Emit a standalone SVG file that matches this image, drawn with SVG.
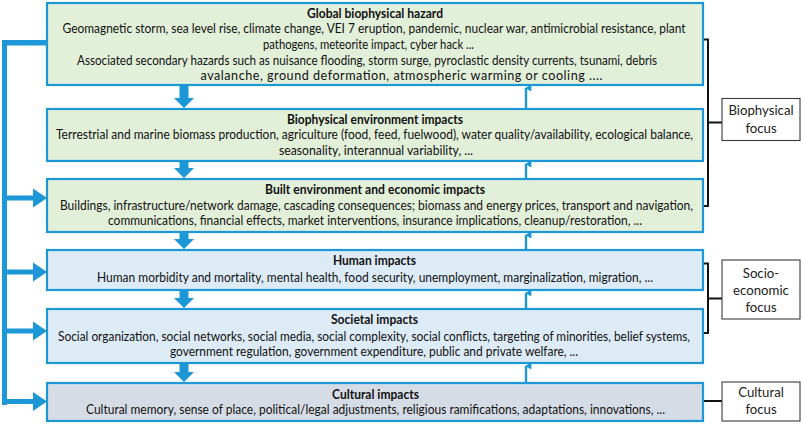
<svg xmlns="http://www.w3.org/2000/svg" width="803" height="425" viewBox="0 0 803 425">
<defs>
<style>
.bg{fill:#ffffff}
.box{stroke:#1d97d5;stroke-width:2.2}
.g{fill:#e2efd9}
.b{fill:#ddebf7}
.c{fill:#d6dce5}
.t{font-family:Lato,"Open Sans","Liberation Sans",sans-serif;font-size:13.4px;fill:#111;text-anchor:middle}
.h{font-weight:bold}
.lab{fill:#ffffff;stroke:#3a3a3a;stroke-width:1.1}
.lt{font-family:Lato,"Open Sans","Liberation Sans",sans-serif;font-size:13.2px;fill:#222;text-anchor:middle}
.blue{fill:#1d97d5}
.up{stroke:#1d97d5;stroke-width:2.4;fill:none}
.br{stroke:#111;stroke-width:2;fill:none}
</style>
<marker id="uph" viewBox="0 0 8 8" refX="4" refY="1" markerWidth="3" markerHeight="3" orient="auto-start-reverse" markerUnits="strokeWidth">
<path d="M0,7 L4,0 L8,7 Z" fill="#1d97d5"/>
</marker>
</defs>
<rect class="bg" x="0" y="0" width="803" height="425"/>

<g id="connectors">
<!-- down arrows -->
<path class="blue" d="M179.5,86 h9 v12 h5.5 l-10,10 l-10,-10 h5.5 Z"/>
<path class="blue" d="M179.5,162 h9 v6 h5.5 l-10,10 l-10,-10 h5.5 Z"/>
<path class="blue" d="M179.5,233 h9 v6 h5.5 l-10,10 l-10,-10 h5.5 Z"/>
<path class="blue" d="M179.5,291 h9 v7 h5.5 l-10,10 l-10,-10 h5.5 Z"/>
<path class="blue" d="M179.5,364 h9 v8 h5.5 l-10,10 l-10,-10 h5.5 Z"/>
<!-- up arrows -->
<line class="up" x1="526" y1="108" x2="526" y2="88" marker-end="url(#uph)"/>
<line class="up" x1="526" y1="178" x2="526" y2="164" marker-end="url(#uph)"/>
<line class="up" x1="526" y1="249" x2="526" y2="235" marker-end="url(#uph)"/>
<line class="up" x1="526" y1="308" x2="526" y2="293" marker-end="url(#uph)"/>
<line class="up" x1="526" y1="382" x2="526" y2="366" marker-end="url(#uph)"/>
<!-- left feedback line -->
<rect class="blue" x="2" y="40" width="5" height="365"/>
<rect class="blue" x="2" y="40" width="45" height="5.5"/>
<path class="blue" d="M7,195.5 h26 v-7 l14,9.5 l-14,9.5 v-7 h-26 Z"/>
<path class="blue" d="M7,269.5 h26 v-7 l14,9.5 l-14,9.5 v-7 h-26 Z"/>
<path class="blue" d="M7,328.5 h26 v-7 l14,9.5 l-14,9.5 v-7 h-26 Z"/>
<path class="blue" d="M7,399 h26 v-7 l14,9.5 l-14,9.5 v-7 h-26 Z"/>
<!-- right brackets -->
<path class="br" d="M703,39.5 H708 V206 H703"/>
<line class="br" x1="708" y1="122.5" x2="722" y2="122.5"/>
<path class="br" d="M703,263.5 H708 V333 H703"/>
<line class="br" x1="708" y1="298.5" x2="722" y2="298.5"/>
<line class="br" x1="703" y1="401" x2="722" y2="401"/>
</g>

<g id="n-global">
<rect class="box g" x="47" y="3" width="656" height="82"/>
<text class="t h" x="375" y="17.5" textLength="136" lengthAdjust="spacingAndGlyphs">Global biophysical hazard</text>
<text class="t" x="374" y="33" textLength="623" lengthAdjust="spacingAndGlyphs">Geomagnetic storm, sea level rise, climate change, VEI 7 eruption, pandemic, nuclear war, antimicrobial resistance, plant</text>
<text class="t" x="368.5" y="48.5" textLength="211" lengthAdjust="spacingAndGlyphs">pathogens, meteorite impact, cyber hack ...</text>
<text class="t" x="367" y="64.5" textLength="580" lengthAdjust="spacingAndGlyphs">Associated secondary hazards such as nuisance flooding, storm surge, pyroclastic density currents, tsunami, debris</text>
<text class="t" x="401.5" y="80" style="font-size:12.6px" textLength="402" lengthAdjust="spacing">avalanche, ground deformation, atmospheric warming or cooling ....</text>
</g>

<g id="n-biophysical">
<rect class="box g" x="47" y="109" width="656" height="52"/>
<text class="t h" x="375" y="123.5" textLength="176" lengthAdjust="spacingAndGlyphs">Biophysical environment impacts</text>
<text class="t" x="374.5" y="139" textLength="637" lengthAdjust="spacingAndGlyphs">Terrestrial and marine biomass production, agriculture (food, feed, fuelwood), water quality/availability, ecological balance,</text>
<text class="t" x="376" y="154.5" textLength="194" lengthAdjust="spacingAndGlyphs">seasonality, interannual variability, ...</text>
</g>

<g id="n-built">
<rect class="box g" x="47" y="179" width="656" height="53"/>
<text class="t h" x="375" y="194" textLength="220" lengthAdjust="spacingAndGlyphs">Built environment and economic  impacts</text>
<text class="t" x="376.5" y="210" textLength="633" lengthAdjust="spacingAndGlyphs">Buildings, infrastructure/network damage, cascading consequences; biomass and energy prices, transport and navigation,</text>
<text class="t" x="375" y="224.5" textLength="534" lengthAdjust="spacingAndGlyphs">communications, financial effects, market interventions, insurance implications, cleanup/restoration, ...</text>
</g>

<g id="n-human">
<rect class="box b" x="47" y="250" width="656" height="40"/>
<text class="t h" x="374.5" y="265" textLength="83" lengthAdjust="spacingAndGlyphs">Human impacts</text>
<text class="t" x="375" y="282" textLength="556" lengthAdjust="spacingAndGlyphs">Human morbidity and mortality, mental health, food security, unemployment, marginalization, migration, ...</text>
</g>

<g id="n-societal">
<rect class="box b" x="47" y="309" width="656" height="54"/>
<text class="t h" x="374.5" y="324" textLength="87" lengthAdjust="spacingAndGlyphs">Societal impacts</text>
<text class="t" x="374" y="341" textLength="632" lengthAdjust="spacingAndGlyphs">Social organization, social networks, social media, social complexity, social conflicts, targeting of minorities, belief systems,</text>
<text class="t" x="374" y="355.5" textLength="408" lengthAdjust="spacingAndGlyphs">government regulation, government expenditure, public and private welfare, ...</text>
</g>

<g id="n-cultural">
<rect class="box c" x="47" y="383" width="656" height="38"/>
<text class="t h" x="375.5" y="398.5" textLength="87" lengthAdjust="spacingAndGlyphs">Cultural impacts</text>
<text class="t" x="375.5" y="414" textLength="579" lengthAdjust="spacingAndGlyphs">Cultural memory, sense of place, political/legal adjustments, religious ramifications, adaptations, innovations, ...</text>
</g>

<g id="l-biophysical">
<rect class="lab" x="722" y="98.5" width="78" height="42"/>
<text class="lt"><tspan x="761" y="114.5">Biophysical</tspan><tspan x="761" y="132.5">focus</tspan></text>
</g>

<g id="l-socio">
<rect class="lab" x="722" y="260" width="78" height="59"/>
<text class="lt"><tspan x="761" y="278">Socio-</tspan><tspan x="761" y="295">economic</tspan><tspan x="761" y="312">focus</tspan></text>
</g>

<g id="l-cultural">
<rect class="lab" x="722" y="382" width="78" height="39"/>
<text class="lt"><tspan x="761" y="396.5">Cultural</tspan><tspan x="761" y="414">focus</tspan></text>
</g>
</svg>
